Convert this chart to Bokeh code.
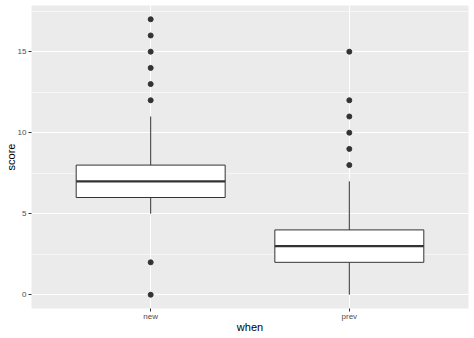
from bokeh.plotting import figure
from bokeh.models import Range1d, FixedTicker
from bokeh.embed import file_html
from bokeh.resources import INLINE

# Data
categories = ["new", "prev"]
lower_whisker = [5, 0]
q1 = [6, 2]
median = [7, 3]
q3 = [8, 4]
upper_whisker = [11, 7]
outliers_new = [0, 2, 12, 13, 14, 15, 16, 17]
outliers_prev = [8, 9, 10, 11, 12, 15]

y_major = [0, 5, 10, 15]
y_minor = [2.5, 7.5, 12.5, 17.5]

xs = [i + 1 for i in range(len(categories))]

p = figure(width=474, height=338, output_backend="svg", toolbar_location=None,
           x_range=Range1d(0.4, 2.6), y_range=Range1d(-0.85, 17.85),
           min_border_left=31, min_border_right=6, min_border_top=5, min_border_bottom=30)
p.outline_line_color = None
p.background_fill_color = "#EBEBEB"
p.border_fill_color = "white"

# grids
p.xaxis.ticker = FixedTicker(ticks=xs)
p.yaxis.ticker = FixedTicker(ticks=y_major, minor_ticks=y_minor)
p.xaxis.major_label_overrides = {x: c for x, c in zip(xs, categories)}
p.xgrid.grid_line_color = "white"
p.xgrid.grid_line_width = 1.1
p.ygrid.grid_line_color = "white"
p.ygrid.grid_line_width = 1.1
p.ygrid.minor_grid_line_color = "white"
p.ygrid.minor_grid_line_width = 0.55

for ax in (p.xaxis, p.yaxis):
    ax.axis_line_color = None
    ax.major_tick_line_color = "#333333"
    ax.major_tick_out = 3
    ax.major_tick_in = 0
    ax.minor_tick_line_color = None
    ax.minor_tick_out = 0
    ax.minor_tick_in = 0
    ax.major_label_text_font = "Liberation Sans"
    ax.major_label_text_font_size = "8px"
    ax.major_label_text_color = "#4D4D4D"
    ax.axis_label_text_font = "Liberation Sans"
    ax.axis_label_text_font_size = "11px"
    ax.axis_label_text_font_style = "normal"
    ax.axis_label_text_color = "black"

p.yaxis.major_label_standoff = 2
p.yaxis.axis_label_standoff = -2
p.xaxis.major_label_standoff = 0
p.xaxis.axis_label_standoff = -3

p.xaxis.axis_label = "when"
p.yaxis.axis_label = "score"

box_col = "#333333"
# whiskers
p.segment(x0=xs, y0=lower_whisker, x1=xs, y1=q1, line_color=box_col, line_width=1)
p.segment(x0=xs, y0=q3, x1=xs, y1=upper_whisker, line_color=box_col, line_width=1)
# boxes
p.vbar(x=xs, width=0.75, bottom=q1, top=q3, fill_color="white", line_color=box_col, line_width=1)
# medians
p.segment(x0=[x - 0.375 for x in xs], y0=median, x1=[x + 0.375 for x in xs], y1=median,
          line_color=box_col, line_width=2.2)
# outliers
p.scatter(x=[xs[0]] * len(outliers_new), y=outliers_new, size=5, color=box_col)
p.scatter(x=[xs[1]] * len(outliers_prev), y=outliers_prev, size=5, color=box_col)

open("out.html", "w").write(file_html(p, INLINE))
